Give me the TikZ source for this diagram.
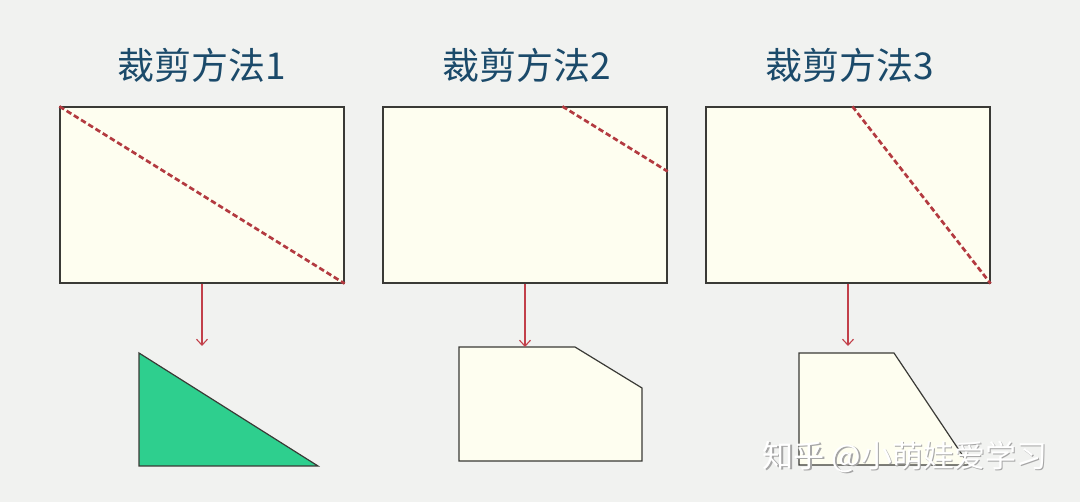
\documentclass[tikz,border=0pt]{standalone}
\usepackage{fontspec}
\newfontfamily\cjk{Noto Sans CJK SC}
\usetikzlibrary{arrows.meta}
\usetikzlibrary{positioning}

\definecolor{bgcolor}{HTML}{F1F2F0}
\definecolor{papercolor}{HTML}{FEFEF0}
\definecolor{edgegray}{HTML}{3A3A36}
\definecolor{cutred}{HTML}{B33A40}
\definecolor{arrowred}{HTML}{C2404A}
\definecolor{titleblue}{HTML}{1B4A6A}
\definecolor{shapegreen}{HTML}{2ECF8E}

\begin{document}
\begin{tikzpicture}[x=1pt, y=-1pt,
    title/.style={font=\cjk\fontsize{37}{37}\selectfont, text=titleblue, inner sep=0pt},
    sheet/.style={draw=edgegray, fill=papercolor, line width=1.2pt, minimum width=284pt, minimum height=176pt, inner sep=0pt},
    cutline/.style={draw=cutred, line width=2.7pt, dash pattern=on 5.5pt off 3pt},
    arrow/.style={draw=arrowred, line width=1.1pt, -{Straight Barb[length=6pt, width=11pt]}},
    piece/.style={draw=edgegray, line width=1.2pt, line join=miter},
    watermark/.style={font=\cjk\fontsize{31}{31}\selectfont, inner sep=0pt}]
    \useasboundingbox (0, 0) rectangle (1080, 502);
    \fill[bgcolor] (0, 0) rectangle (1080, 502);
    % the three sheets
    \node[title] (title1) at (202, 65) {裁剪方法1};
    \node[title] (title2) at (527, 65) {裁剪方法2};
    \node[title] (title3) at (850, 65) {裁剪方法3};
    \node[sheet] (sheet1) at (202, 195) {};
    \node[sheet] (sheet2) at (525, 195) {};
    \node[sheet] (sheet3) at (848, 195) {};
    \draw[cutline] (sheet1.north west) -- (sheet1.south east);
    \draw[cutline] ([xshift=180pt]sheet2.north west) -- ([yshift=-65pt]sheet2.north east);
    \draw[cutline] ([xshift=147pt]sheet3.north west) -- (sheet3.south east);
    % the pieces that are left
    \draw[piece, fill=shapegreen] (139, 353) -- (139, 466) -- (318, 466) -- cycle;
    \draw[piece, fill=papercolor] (459, 347) -- (575, 347) -- (642, 388) -- (642, 461) -- (459, 461) -- cycle;
    \draw[piece, fill=papercolor] (799, 353) -- (894, 353) -- (969, 465) -- (799, 465) -- cycle;
    \coordinate (top1) at (202, 346);
    \coordinate (top2) at (525, 347);
    \coordinate (top3) at (848, 346);
    \draw[arrow] (sheet1.south) -- (top1);
    \draw[arrow] (sheet2.south) -- (top2);
    \draw[arrow] (sheet3.south) -- (top3);
    \node[watermark, text=black!35] (markshadow) at (906.5, 458.5) {知乎 @小萌娃爱学习};
    \node[watermark, text=white] (mark) at (905, 457) {知乎 @小萌娃爱学习};
\end{tikzpicture}
\end{document}
